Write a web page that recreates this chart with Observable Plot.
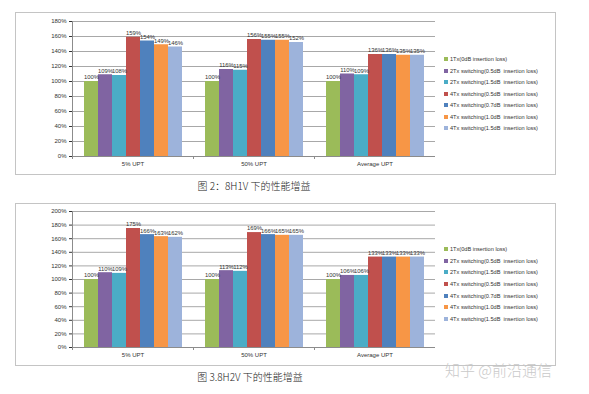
<!DOCTYPE html>
<html><head><meta charset="utf-8">
<script src="https://cdn.jsdelivr.net/npm/d3@7"></script>
<script src="https://cdn.jsdelivr.net/npm/@observablehq/plot@0.6"></script>
<style>
html,body{margin:0;padding:0;background:#fff;}
body{width:589px;height:394px;position:relative;overflow:hidden;font-family:"Liberation Sans",Arial,sans-serif;}
.box{position:absolute;left:15px;width:539px;height:161px;border:1px solid #c4c4c4;background:#fff;}
.box svg{position:absolute;left:0;top:0;}
.legend{position:absolute;left:444px;font-size:5.6px;color:#333;}
.legend .row{position:absolute;left:0;white-space:pre;height:8px;line-height:8px;}
.legend .sw{display:inline-block;width:4px;height:4px;margin-right:2px;vertical-align:0px;}
.cap{position:absolute;font-family:"Noto Sans CJK SC",sans-serif;font-weight:300;font-size:10px;color:#222;white-space:pre;transform:translate(-50%,-50%);}
.wm{position:absolute;left:445px;top:359px;font-family:"Noto Sans CJK SC",sans-serif;font-weight:300;font-size:15px;color:#c9c9c9;white-space:pre;}
</style></head><body>
<div id="c1" class="box" style="top:12px"></div>
<div id="l1" class="legend" style="top:55px"></div>
<div class="cap" style="left:254px;top:185px">图 2：8H1V 下的性能增益</div>
<div id="c2" class="box" style="top:203px"></div>
<div id="l2" class="legend" style="top:245px"></div>
<div class="wm">知乎 @前沿通信</div>
<div class="cap" style="left:250px;top:376px">图 3.8H2V 下的性能增益</div>
<script>
const categories = ["5% UPT", "50% UPT", "Average UPT"];
const series = [
  "1Tx(0dB insertion loss)",
  "2Tx switching(0.5dB  insertion loss)",
  "2Tx switching(1.5dB  insertion loss)",
  "4Tx switching(0.5dB  insertion loss)",
  "4Tx switching(0.7dB  insertion loss)",
  "4Tx switching(1.0dB  insertion loss)",
  "4Tx switching(1.5dB  insertion loss)"
];
const colors = ["#9BBB59", "#8064A2", "#4BACC6", "#C0504D", "#4F81BD", "#F79646", "#9DB3DB"];
// values per category, in series order (percent)
const gain8H1V_5 = [100, 109, 108, 159, 154, 149, 146];
const gain8H1V_50 = [100, 116, 115, 156, 155, 155, 152];
const gain8H1V_avg = [100, 110, 109, 136, 136, 135, 135];
const gain8H2V_5 = [100, 110, 109, 175, 166, 163, 162];
const gain8H2V_50 = [100, 113, 112, 169, 166, 165, 165];
const gain8H2V_avg = [100, 106, 106, 133, 133, 133, 133];
const yTicks1 = [0, 20, 40, 60, 80, 100, 120, 140, 160, 180];
const yTicks2 = [0, 20, 40, 60, 80, 100, 120, 140, 160, 180, 200];

function draw(el, values, ticks, marginTop) {
  const data = categories.flatMap((c, i) => series.map((s, j) => ({cat: c, ser: s, v: values[i][j]})));
  const yMax = ticks[ticks.length - 1];
  const plot = Plot.plot({
    width: 419, height: 161,
    marginLeft: 56, marginRight: 0, marginTop, marginBottom: 18,
    style: {fontFamily: "Liberation Sans, Arial, sans-serif", fontSize: "6px", color: "#333", background: "transparent"},
    fx: {domain: categories, padding: 0, label: null, axis: "bottom", tickSize: 0, tickPadding: 5},
    x: {domain: series, paddingInner: 0, paddingOuter: 0.78, axis: null},
    y: {domain: [0, yMax], ticks, tickFormat: d => d + "%", label: null, tickSize: 3, tickPadding: 3},
    color: {domain: series, range: colors},
    marks: [
      Plot.gridY(ticks, {stroke: "#a8a8a8", strokeOpacity: 1}),
      Plot.barY(data, {fx: "cat", x: "ser", y: "v", fill: "ser"}),
      Plot.text(data, {fx: "cat", x: "ser", y: "v", text: d => d.v + "%", dy: -4, fontSize: 5.9, fill: "#333"}),
      Plot.ruleY([0], {stroke: "#8c8c8c"})
    ]
  });
  el.appendChild(plot);
  try {
    const fx = plot.scale("fx"), y = plot.scale("y");
    const svg = d3.select(plot);
    const y0 = y.apply(0), yT = y.apply(yMax);
    const bounds = categories.map(c => fx.apply(c));
    bounds.push(fx.apply(categories[categories.length - 1]) + fx.bandwidth);
    const g = svg.append("g").attr("stroke", "#8c8c8c").attr("shape-rendering", "crispEdges");
    g.append("line").attr("x1", bounds[0]).attr("x2", bounds[0]).attr("y1", yT).attr("y2", y0);
    bounds.forEach(b => g.append("line").attr("x1", b).attr("x2", b).attr("y1", y0).attr("y2", y0 + 3));
  } catch (e) {}
}

function legend(el, rowStep) {
  series.forEach((s, i) => {
    const r = document.createElement("div");
    r.className = "row";
    r.style.top = (i * rowStep) + "px";
    r.innerHTML = `<span class="sw" style="background:${colors[i]}"></span>${s}`;
    el.appendChild(r);
  });
}

draw(document.getElementById("c1"), [gain8H1V_5, gain8H1V_50, gain8H1V_avg], yTicks1, 8);
draw(document.getElementById("c2"), [gain8H2V_5, gain8H2V_50, gain8H2V_avg], yTicks2, 7);
legend(document.getElementById("l1"), 11.5);
legend(document.getElementById("l2"), 11.67);
</script>
</body></html>
